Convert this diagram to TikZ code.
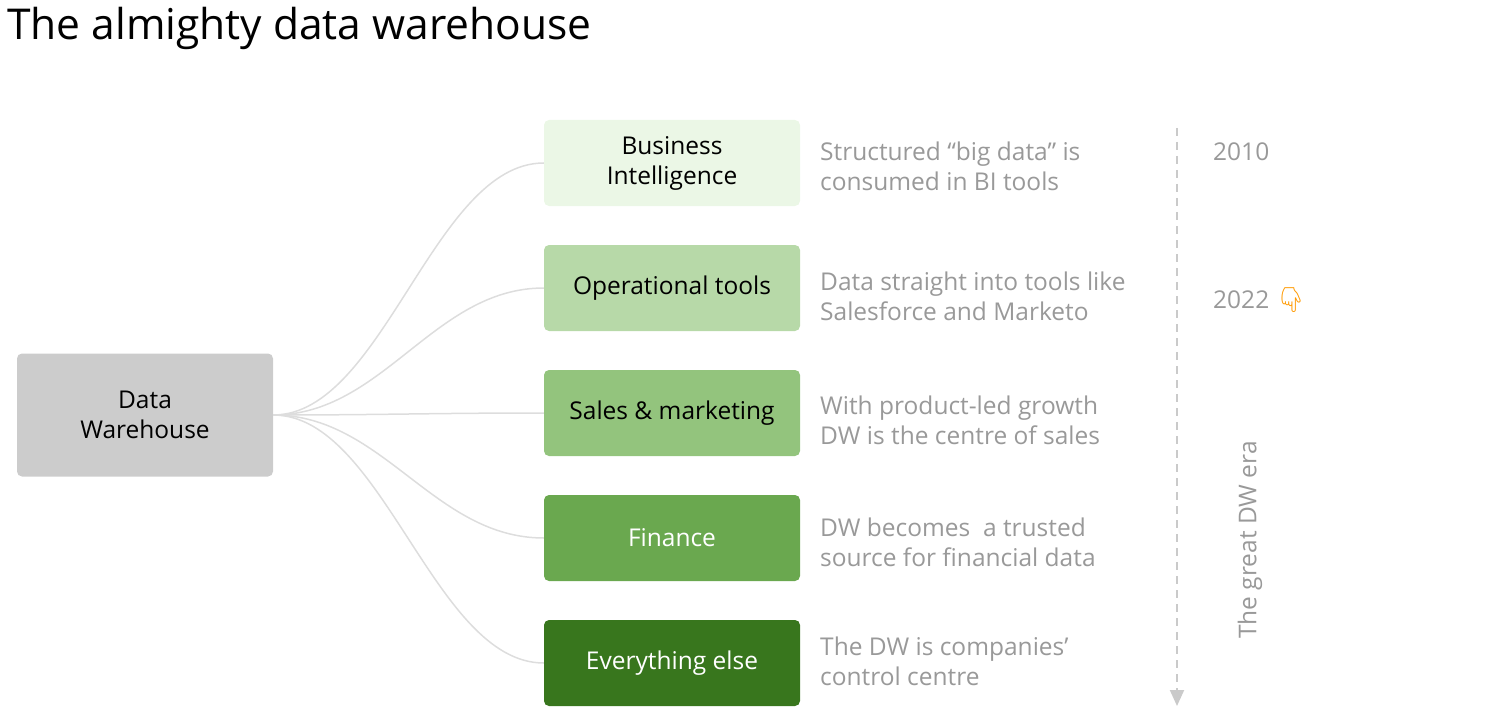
\documentclass[tikz,border=0pt]{standalone}
\usepackage{fontspec}
\usetikzlibrary{arrows.meta}
\setmainfont{Open Sans}
\newfontfamily\emo{Noto Emoji}
\definecolor{g1}{HTML}{EBF7E6}\definecolor{g2}{HTML}{B7D9A8}\definecolor{g3}{HTML}{93C47D}
\definecolor{g4}{HTML}{6AA84F}\definecolor{g5}{HTML}{38761D}\definecolor{txt}{HTML}{999999}
\definecolor{ln}{HTML}{DDDDDD}\definecolor{dwc}{HTML}{CCCCCC}
\begin{document}
\begin{tikzpicture}[x=1pt,y=-1pt,
 box/.style={rounded corners=5pt,minimum width=256pt,minimum height=86pt,align=center,font=\fontsize{24.5}{30}\selectfont,inner sep=0pt},
 desc/.style={anchor=west,align=left,text=txt,font=\fontsize{24.5}{30}\selectfont,inner sep=0pt},
 link/.style={ln,line width=1.5pt}]
\useasboundingbox (0,0) rectangle (1490,722);
\node[anchor=west,font=\fontsize{42.5}{48}\selectfont,inner sep=0pt] (title) at (7,28) {The almighty data warehouse};
\node[box,fill=dwc,minimum height=123pt] (dw) at (145,415) {Data\\Warehouse};
\node[box,fill=g1] (b1) at (672,163) {Business\\Intelligence};
\node[box,fill=g2] (b2) at (672,288) {Operational tools};
\node[box,fill=g3] (b3) at (672,413) {Sales \& marketing};
\node[box,fill=g4,text=white] (b4) at (672,538) {Finance};
\node[box,fill=g5,text=white] (b5) at (672,663) {Everything else};
\foreach \b in {b1,b2,b3,b4,b5}
  \draw[link] (dw.east) .. controls +(110,0) and +(-110,0) .. (\b.west);
\node[desc] (d1) at (820,166) {Structured “big data” is\\consumed in BI tools};
\node[desc] (d2) at (820,296) {Data straight into tools like\\Salesforce and Marketo};
\node[desc] (d3) at (820,420) {With product-led growth\\DW is the centre of sales};
\node[desc] (d4) at (820,542) {DW becomes \ a trusted\\source for financial data};
\node[desc] (d5) at (820,661) {The DW is companies’\\control centre};
\coordinate (t0) at (1177,128); \coordinate (t1) at (1177,706);
\draw[ln!80!gray,line width=2pt,dash pattern=on 8pt off 6pt,-{Stealth[length=16pt,width=14pt,inset=0pt]}] (t0) -- (t1);
\node[desc] (y1) at (1213,152) {2010};
\node[desc] (y2) at (1213,300) {2022 {\emo\textcolor{orange!80!yellow}{👇}}};
\node[text=txt,font=\fontsize{24.5}{30}\selectfont,rotate=90,inner sep=0pt] (era) at (1250,540) {The great DW era};
\end{tikzpicture}
\end{document}
